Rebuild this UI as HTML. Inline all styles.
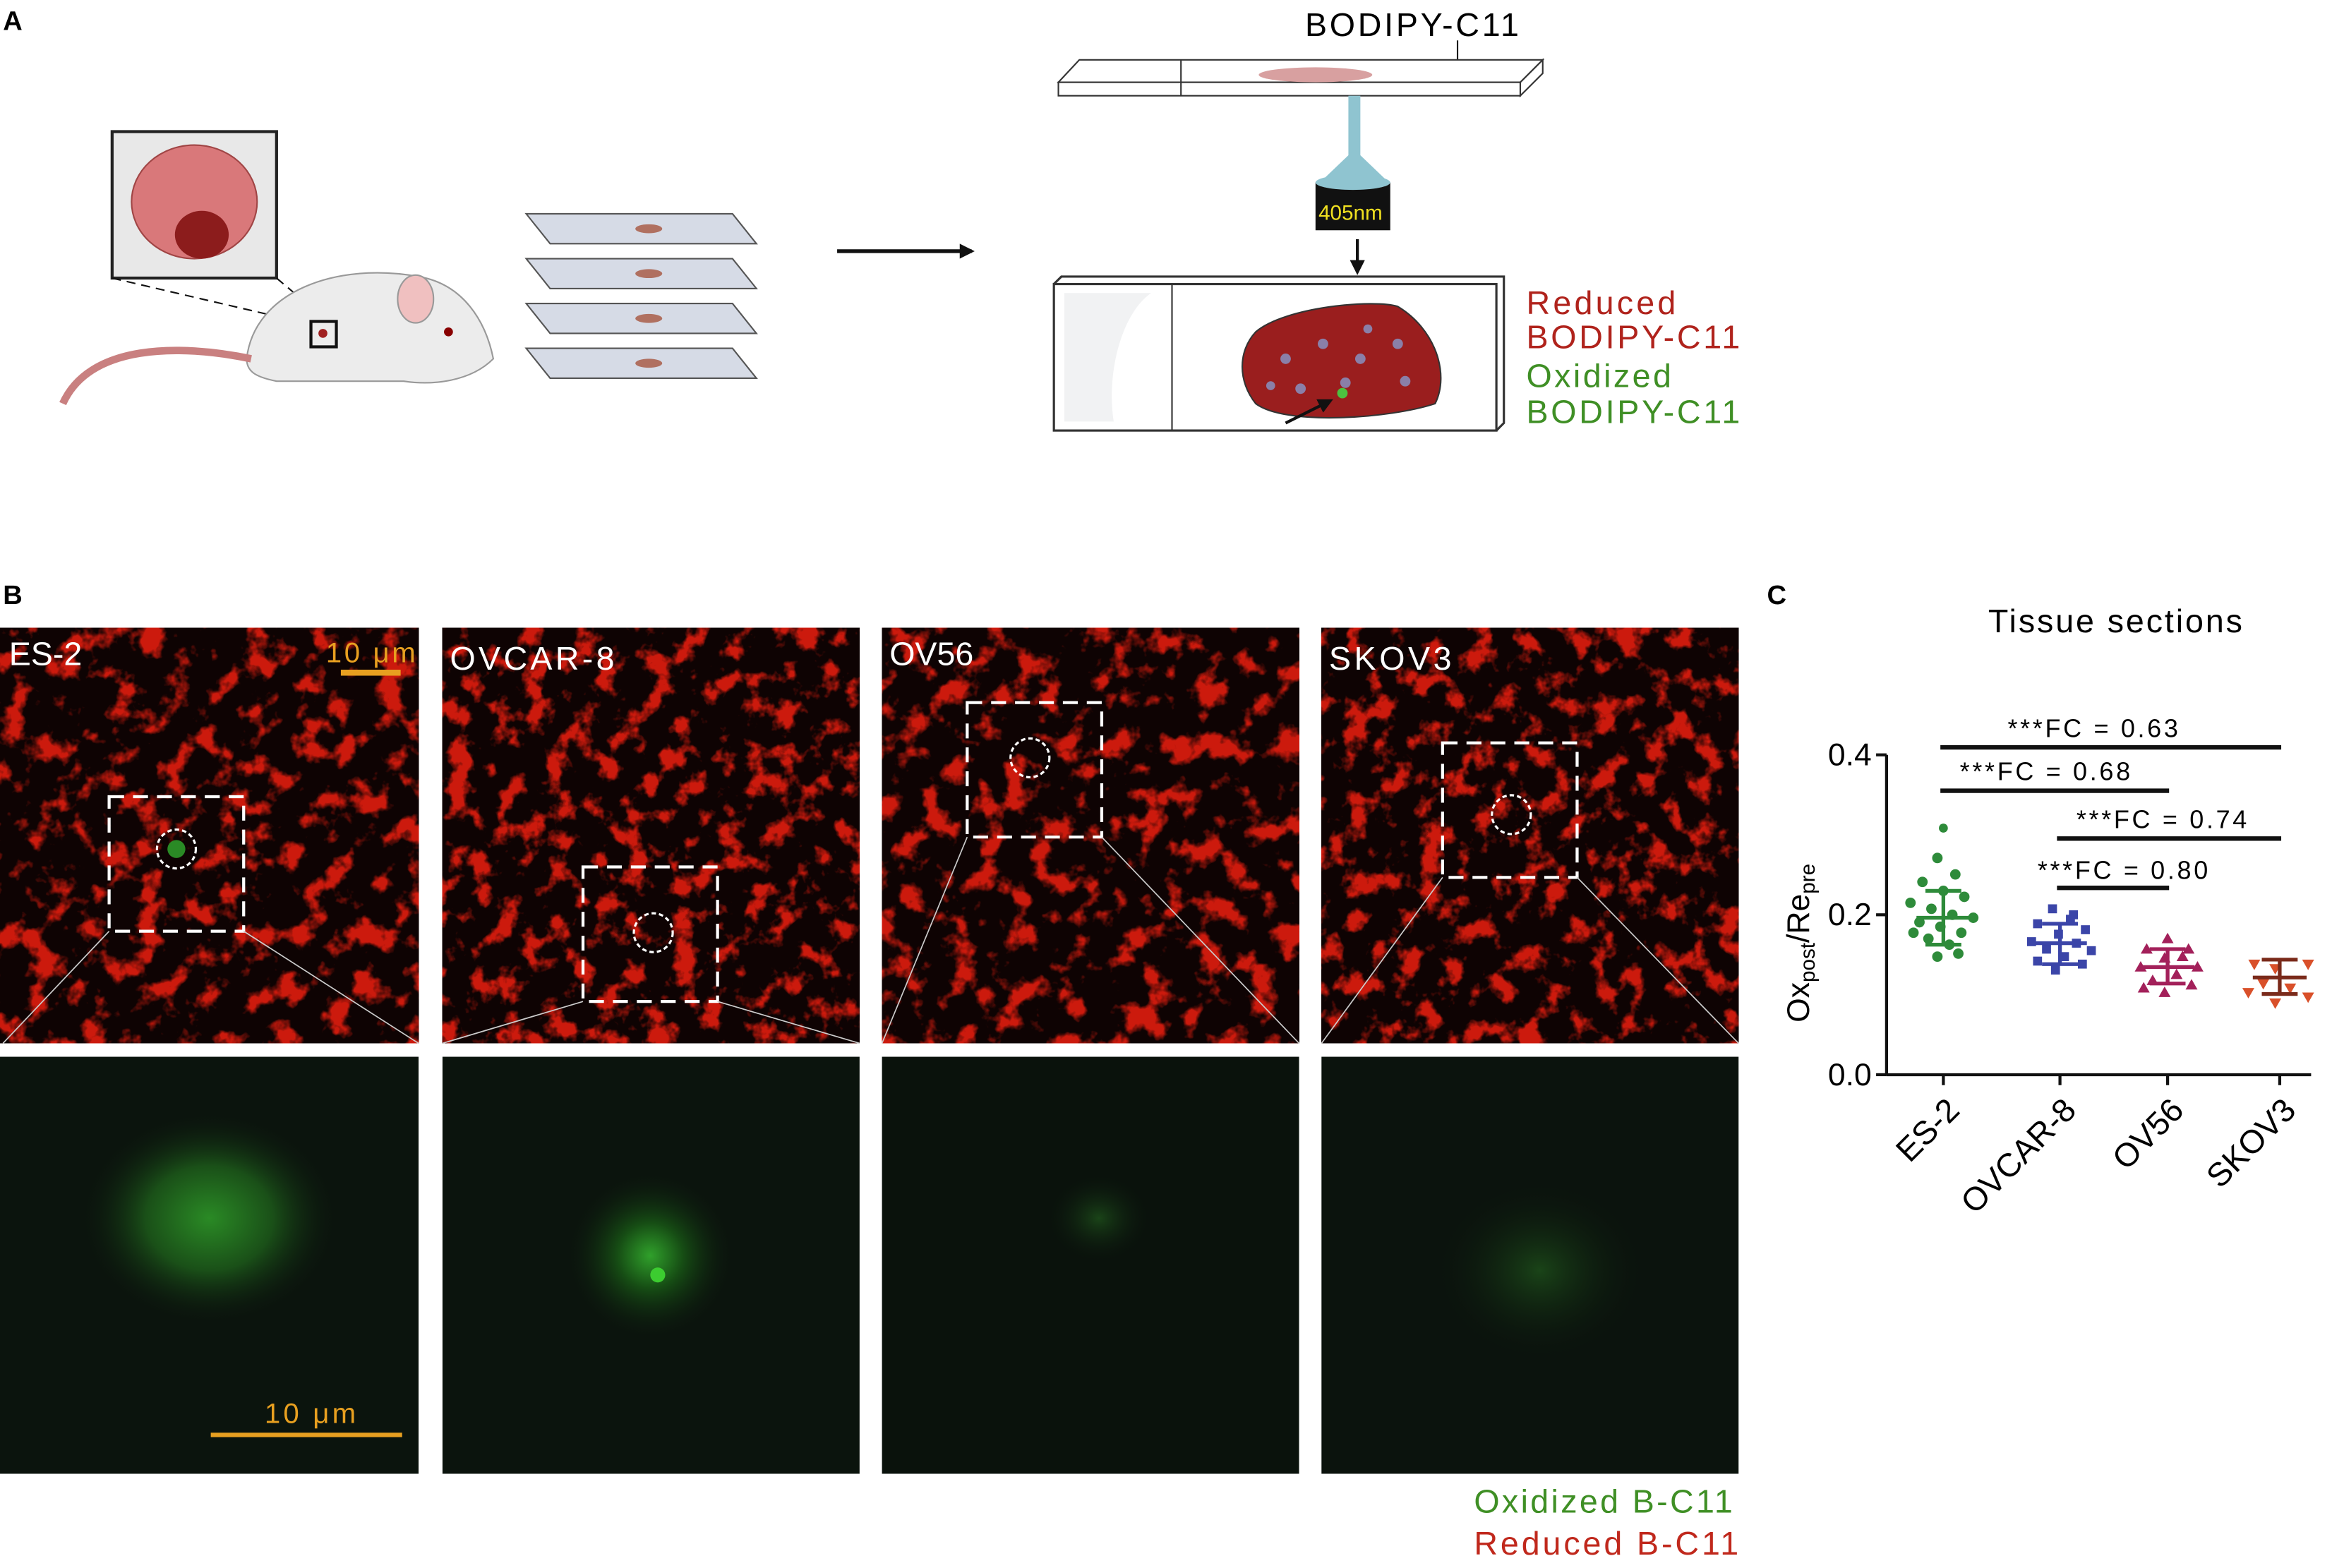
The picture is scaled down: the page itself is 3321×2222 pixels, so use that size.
<!DOCTYPE html>
<html><head><meta charset="utf-8"><style>
html,body{margin:0;padding:0;background:#fff;}
svg{display:block;}
text{font-family:"Liberation Sans",sans-serif;}
</style></head><body>
<svg width="3321" height="2222" viewBox="0 0 1568 1049" xmlns="http://www.w3.org/2000/svg">
<defs>
<filter id="tex" x="0" y="0" width="100%" height="100%" color-interpolation-filters="sRGB">
<feTurbulence type="fractalNoise" baseFrequency="0.055" numOctaves="4" result="n"/>
<feColorMatrix in="n" type="matrix" values="0 0 0 0 0.8  0 0 0 0 0.1  0 0 0 0 0.05  6 0 0 0 -3.1" result="c"/>
<feFlood flood-color="#0e0303" result="bg"/>
<feComposite in="c" in2="bg" operator="over"/>
</filter>
<filter id="tex2" x="0" y="0" width="100%" height="100%" color-interpolation-filters="sRGB">
<feTurbulence type="fractalNoise" baseFrequency="0.06" numOctaves="4" seed="9" result="n"/>
<feColorMatrix in="n" type="matrix" values="0 0 0 0 0.8  0 0 0 0 0.1  0 0 0 0 0.05  6 0 0 0 -3.1" result="c"/>
<feFlood flood-color="#0e0303" result="bg"/>
<feComposite in="c" in2="bg" operator="over"/>
</filter>
<radialGradient id="g1"><stop offset="0" stop-color="#2a8a25"/><stop offset="0.5" stop-color="#1a5018"/><stop offset="1" stop-color="#0d1a0f" stop-opacity="0"/></radialGradient>
<radialGradient id="g2"><stop offset="0" stop-color="#30a02b"/><stop offset="0.4" stop-color="#164d14"/><stop offset="1" stop-color="#0d1a0f" stop-opacity="0"/></radialGradient>
<radialGradient id="g3"><stop offset="0" stop-color="#1a4418"/><stop offset="1" stop-color="#0b140d" stop-opacity="0"/></radialGradient>
<marker id="ah" markerWidth="10" markerHeight="10" refX="8" refY="5" orient="auto" markerUnits="userSpaceOnUse"><path d="M0,0 L10,5 L0,10 Z" fill="#111"/></marker>
</defs>

<!-- Panel A -->
<text x="2" y="20" font-size="18" font-weight="bold">A</text>
<rect x="75" y="88" width="110" height="98" fill="#e8e8e8" stroke="#222" stroke-width="2"/>
<ellipse cx="130" cy="135" rx="42" ry="38" fill="#d9787a" stroke="#a04545"/>
<ellipse cx="135" cy="157" rx="18" ry="16" fill="#8c1c1c"/>
<line x1="75" y1="186" x2="208" y2="217" stroke="#111" stroke-dasharray="6,4"/>
<line x1="185" y1="186" x2="217" y2="213" stroke="#111" stroke-dasharray="6,4"/>
<path d="M165,240 C170,195 225,175 280,185 C310,190 325,215 330,240 C315,255 290,258 270,255 L185,255 C170,252 165,248 165,240Z" fill="#ececec" stroke="#999"/>
<ellipse cx="278" cy="200" rx="12" ry="16" fill="#f0c0c0" stroke="#999"/>
<circle cx="300" cy="222" r="3" fill="#800"/>
<path d="M168,240 C120,230 60,230 42,270" fill="none" stroke="#c98080" stroke-width="5"/>
<rect x="208" y="215" width="17" height="17" fill="none" stroke="#111" stroke-width="2"/>
<circle cx="216" cy="223" r="3" fill="#a02020"/>
<g fill="#d6dbe6" stroke="#555">
<path d="M352,143 L490,143 L506,163 L368,163Z"/><path d="M352,173 L490,173 L506,193 L368,193Z"/>
<path d="M352,203 L490,203 L506,223 L368,223Z"/><path d="M352,233 L490,233 L506,253 L368,253Z"/>
</g>
<g fill="#b07060"><ellipse cx="434" cy="153" rx="9" ry="3"/><ellipse cx="434" cy="183" rx="9" ry="3"/><ellipse cx="434" cy="213" rx="9" ry="3"/><ellipse cx="434" cy="243" rx="9" ry="3"/></g>
<line x1="560" y1="168" x2="650" y2="168" stroke="#111" stroke-width="2.5" marker-end="url(#ah)"/>
<text x="873" y="24" font-size="22" textLength="143">BODIPY-C11</text>
<line x1="975" y1="27" x2="975" y2="40" stroke="#111"/>
<path d="M708,55 L722,40 L1032,40 L1017,55Z" fill="#fff" stroke="#333"/>
<rect x="708" y="55" width="309" height="9" fill="#fff" stroke="#333"/>
<path d="M1017,64 L1032,49 L1032,40 L1017,55Z" fill="#fff" stroke="#333"/>
<line x1="790" y1="40" x2="790" y2="64" stroke="#333"/>
<ellipse cx="880" cy="50" rx="38" ry="5" fill="#d8a0a0"/>
<rect x="902" y="64" width="8" height="48" fill="#8fc4d0"/>
<path d="M906,100 L883,122 L929,122Z" fill="#8fc4d0"/>
<rect x="880" y="122" width="50" height="32" fill="#111"/>
<ellipse cx="905" cy="122" rx="25" ry="5" fill="#8fc4d0"/>
<text x="882" y="147" font-size="14" fill="#f0e020">405nm</text>
<line x1="908" y1="160" x2="908" y2="182" stroke="#111" stroke-width="2" marker-end="url(#ah)"/>
<rect x="705" y="190" width="296" height="98" fill="#fff" stroke="#333" stroke-width="1.5"/>
<path d="M705,190 L710,185 L1006,185 L1006,283 L1001,288" fill="none" stroke="#333" stroke-width="1.5"/>
<line x1="784" y1="190" x2="784" y2="288" stroke="#333"/>
<path d="M712,196 L770,196 C750,210 740,250 745,282 L712,282Z" fill="#f1f2f3"/>
<path d="M840,222 C860,205 920,200 935,205 C960,220 970,250 960,270 C930,280 860,285 840,270 C828,255 828,235 840,222Z" fill="#9a1e1e" stroke="#333"/>
<g fill="#8a7fa8"><circle cx="860" cy="240" r="3.5"/><circle cx="885" cy="230" r="3.5"/><circle cx="910" cy="240" r="3.5"/><circle cx="935" cy="230" r="3.5"/><circle cx="870" cy="260" r="3.5"/><circle cx="900" cy="256" r="3.5"/><circle cx="940" cy="255" r="3.5"/><circle cx="915" cy="220" r="3"/><circle cx="850" cy="258" r="3"/></g>
<circle cx="898" cy="263" r="3.5" fill="#4cc040"/>
<line x1="860" y1="283" x2="890" y2="268" stroke="#111" stroke-width="2" marker-end="url(#ah)"/>
<g font-size="22"><text x="1021" y="210" fill="#b0231c" textLength="100">Reduced</text><text x="1021" y="233" fill="#b0231c" textLength="143">BODIPY-C11</text>
<text x="1021" y="259" fill="#3f8f25" textLength="97">Oxidized</text><text x="1021" y="283" fill="#3f8f25" textLength="143">BODIPY-C11</text></g>

<!-- Panel B -->
<text x="2" y="404" font-size="18" font-weight="bold">B</text>
<rect x="0" y="420" width="280" height="278" filter="url(#tex)"/>
<rect x="296" y="420" width="279" height="278" filter="url(#tex2)"/>
<rect x="590" y="420" width="279" height="278" filter="url(#tex)"/>
<rect x="884" y="420" width="279" height="278" filter="url(#tex2)"/>
<rect x="0" y="707" width="280" height="279" fill="#0b140d"/>
<rect x="296" y="707" width="279" height="279" fill="#0b140d"/>
<rect x="590" y="707" width="279" height="279" fill="#0a120c"/>
<rect x="884" y="707" width="279" height="279" fill="#0b130d"/>
<ellipse cx="140" cy="815" rx="85" ry="70" fill="url(#g1)"/>
<ellipse cx="435" cy="840" rx="55" ry="55" fill="url(#g2)"/>
<circle cx="440" cy="853" r="5" fill="#3ccc30"/>
<ellipse cx="735" cy="815" rx="35" ry="30" fill="url(#g3)"/>
<ellipse cx="1030" cy="850" rx="70" ry="60" fill="url(#g3)"/>
<g fill="#fff" font-size="22"><text x="6" y="445">ES-2</text><text x="301" y="448" textLength="110">OVCAR-8</text><text x="595" y="445">OV56</text><text x="889" y="448" textLength="82">SKOV3</text></g>
<text x="218" y="443" font-size="19" fill="#e8a020" textLength="60">10 μm</text>
<line x1="228" y1="450" x2="268" y2="450" stroke="#e8a020" stroke-width="4"/>
<text x="177" y="952" font-size="19" fill="#e8a020" textLength="61">10 μm</text>
<line x1="141" y1="960" x2="269" y2="960" stroke="#e8a020" stroke-width="3"/>
<g fill="none" stroke="#fff" stroke-width="2" stroke-dasharray="10,6">
<rect x="73" y="533" width="90" height="90"/><rect x="390" y="580" width="90" height="90"/>
<rect x="647" y="470" width="90" height="90"/><rect x="965" y="497" width="90" height="90"/></g>
<g fill="none" stroke="#fff" stroke-width="1.5" stroke-dasharray="3,2">
<circle cx="118" cy="568" r="13"/><circle cx="437" cy="624" r="13"/><circle cx="689" cy="507" r="13"/><circle cx="1011" cy="545" r="13"/></g>
<circle cx="118" cy="568" r="6" fill="#2a8a25"/>
<g stroke="#ccc" stroke-width="0.8">
<line x1="73" y1="623" x2="2" y2="698"/><line x1="163" y1="623" x2="280" y2="698"/>
<line x1="390" y1="670" x2="296" y2="698"/><line x1="480" y1="670" x2="575" y2="698"/>
<line x1="647" y1="560" x2="590" y2="698"/><line x1="737" y1="560" x2="869" y2="698"/>
<line x1="965" y1="587" x2="884" y2="698"/><line x1="1055" y1="587" x2="1163" y2="698"/></g>
<text x="986" y="1012" font-size="22" fill="#3f8f25" textLength="173">Oxidized B-C11</text>
<text x="986" y="1040" font-size="22" fill="#c0281c" textLength="177">Reduced B-C11</text>

<!-- Panel C -->
<text x="1182" y="404" font-size="18" font-weight="bold">C</text>
<text x="1330" y="423" font-size="22" textLength="170">Tissue sections</text>
<g stroke="#111" stroke-width="2"><line x1="1262" y1="505" x2="1262" y2="719"/><line x1="1262" y1="719" x2="1546" y2="719"/>
<line x1="1255" y1="505" x2="1262" y2="505"/><line x1="1255" y1="612" x2="1262" y2="612"/><line x1="1255" y1="719" x2="1262" y2="719"/>
<line x1="1300" y1="719" x2="1300" y2="726"/><line x1="1378" y1="719" x2="1378" y2="726"/><line x1="1450" y1="719" x2="1450" y2="726"/><line x1="1525" y1="719" x2="1525" y2="726"/></g>
<g font-size="21" text-anchor="end"><text x="1252" y="512">0.4</text><text x="1252" y="619">0.2</text><text x="1252" y="726">0.0</text></g>
<text transform="translate(1210,684) rotate(-90)" font-size="21">Ox<tspan font-size="14" dy="4">post</tspan><tspan dy="-4">/Re</tspan><tspan font-size="14" dy="4">pre</tspan></text>
<g font-size="22" text-anchor="end">
<text transform="translate(1312,744) rotate(-45)">ES-2</text><text transform="translate(1390,744) rotate(-45)">OVCAR-8</text>
<text transform="translate(1462,744) rotate(-45)">OV56</text><text transform="translate(1537,744) rotate(-45)">SKOV3</text></g>
<g stroke="#111" stroke-width="3"><line x1="1298" y1="500" x2="1526" y2="500"/><line x1="1298" y1="529" x2="1451" y2="529"/>
<line x1="1376" y1="561" x2="1526" y2="561"/><line x1="1376" y1="594" x2="1451" y2="594"/></g>
<g font-size="17"><text x="1343" y="493" textLength="114">***FC = 0.63</text><text x="1311" y="522" textLength="114">***FC = 0.68</text>
<text x="1389" y="554" textLength="114">***FC = 0.74</text><text x="1363" y="588" textLength="114">***FC = 0.80</text></g>
<g fill="#2e8b3a">
<circle cx="1300" cy="554" r="3"/><circle cx="1296" cy="574" r="3.5"/><circle cx="1308" cy="585" r="3.5"/><circle cx="1286" cy="590" r="3.5"/>
<circle cx="1300" cy="596" r="3.5"/><circle cx="1314" cy="600" r="3.5"/><circle cx="1278" cy="604" r="3.5"/><circle cx="1292" cy="608" r="3.5"/>
<circle cx="1306" cy="612" r="3.5"/><circle cx="1320" cy="614" r="3.5"/><circle cx="1284" cy="617" r="3.5"/><circle cx="1298" cy="620" r="3.5"/>
<circle cx="1312" cy="624" r="3.5"/><circle cx="1290" cy="628" r="3.5"/><circle cx="1304" cy="632" r="3.5"/><circle cx="1296" cy="640" r="3.5"/><circle cx="1310" cy="638" r="3.5"/><circle cx="1280" cy="624" r="3.5"/></g>
<g stroke="#2e8b3a" stroke-width="2.5"><line x1="1300" y1="596" x2="1300" y2="632"/><line x1="1288" y1="596" x2="1312" y2="596"/><line x1="1282" y1="614" x2="1318" y2="614"/><line x1="1288" y1="632" x2="1312" y2="632"/></g>
<g fill="#3b45a8">
<rect x="1370" y="605" width="6" height="6"/><rect x="1384" y="609" width="6" height="6"/><rect x="1360" y="615" width="6" height="6"/><rect x="1392" y="619" width="6" height="6"/>
<rect x="1374" y="622" width="6" height="6"/><rect x="1356" y="627" width="6" height="6"/><rect x="1386" y="628" width="6" height="6"/><rect x="1366" y="632" width="6" height="6"/>
<rect x="1396" y="633" width="6" height="6"/><rect x="1378" y="637" width="6" height="6"/><rect x="1360" y="640" width="6" height="6"/><rect x="1390" y="642" width="6" height="6"/><rect x="1372" y="646" width="6" height="6"/><rect x="1382" y="612" width="6" height="6"/></g>
<g stroke="#3b45a8" stroke-width="2.5"><line x1="1378" y1="618" x2="1378" y2="645"/><line x1="1366" y1="618" x2="1390" y2="618"/><line x1="1360" y1="631" x2="1396" y2="631"/><line x1="1366" y1="645" x2="1390" y2="645"/></g>
<g fill="#a3205a">
<path d="M1446,631 l4,-7 l4,7z"/><path d="M1432,638 l4,-7 l4,7z"/><path d="M1460,638 l4,-7 l4,7z"/><path d="M1444,644 l4,-7 l4,7z"/>
<path d="M1428,650 l4,-7 l4,7z"/><path d="M1466,650 l4,-7 l4,7z"/><path d="M1452,655 l4,-7 l4,7z"/><path d="M1436,659 l4,-7 l4,7z"/>
<path d="M1462,662 l4,-7 l4,7z"/><path d="M1444,667 l4,-7 l4,7z"/><path d="M1430,664 l4,-7 l4,7z"/><path d="M1456,643 l4,-7 l4,7z"/></g>
<g stroke="#a3205a" stroke-width="2.5"><line x1="1450" y1="635" x2="1450" y2="658"/><line x1="1438" y1="635" x2="1462" y2="635"/><line x1="1432" y1="647" x2="1468" y2="647"/><line x1="1438" y1="658" x2="1462" y2="658"/></g>
<g fill="#d9502a">
<path d="M1504,642 l8,0 l-4,7z"/><path d="M1518,645 l8,0 l-4,7z"/><path d="M1540,642 l8,0 l-4,7z"/><path d="M1510,655 l8,0 l-4,7z"/>
<path d="M1528,658 l8,0 l-4,7z"/><path d="M1500,661 l8,0 l-4,7z"/><path d="M1540,664 l8,0 l-4,7z"/><path d="M1518,668 l8,0 l-4,7z"/></g>
<g stroke="#7a2a1a" stroke-width="2.5"><line x1="1525" y1="642" x2="1525" y2="665"/><line x1="1513" y1="642" x2="1537" y2="642"/><line x1="1507" y1="654" x2="1543" y2="654"/><line x1="1513" y1="665" x2="1537" y2="665"/></g>
</svg>
</body></html>
